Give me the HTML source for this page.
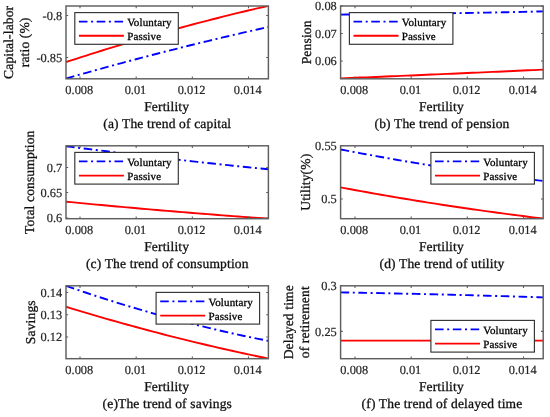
<!DOCTYPE html><html><head><meta charset="utf-8"><style>html,body{margin:0;padding:0;background:#fff;}svg{display:block;}#w{width:550px;height:417px;}text{font-family:"Liberation Serif","Times New Roman",serif;stroke-width:0.3px;text-rendering:geometricPrecision;}text.t{stroke-width:0.2px;}</style></head><body>
<div id="w"><svg width="550" height="417" viewBox="0 0 550 417">
<rect width="550" height="417" fill="#fff"/>
<clipPath id="c00"><rect x="66.0" y="6.0" width="202.39999999999998" height="72.8"/></clipPath>
<g clip-path="url(#c00)" fill="none" stroke-width="1.9">
<polyline points="66.00,62.09 71.06,60.43 76.12,58.79 81.18,57.16 86.24,55.54 91.30,53.94 96.36,52.35 101.42,50.77 106.48,49.20 111.54,47.65 116.60,46.11 121.66,44.58 126.72,43.06 131.78,41.56 136.84,40.07 141.90,38.59 146.96,37.13 152.02,35.68 157.08,34.24 162.14,32.81 167.20,31.40 172.26,30.00 177.32,28.61 182.38,27.23 187.44,25.87 192.50,24.52 197.56,23.18 202.62,21.86 207.68,20.55 212.74,19.25 217.80,17.96 222.86,16.69 227.92,15.43 232.98,14.18 238.04,12.95 243.10,11.72 248.16,10.51 253.22,9.32 258.28,8.13 263.34,6.96 268.40,5.80" stroke="#ff0000"/>
<polyline points="66.00,78.53 71.06,77.08 76.12,75.64 81.18,74.21 86.24,72.79 91.30,71.37 96.36,69.96 101.42,68.56 106.48,67.17 111.54,65.79 116.60,64.41 121.66,63.05 126.72,61.69 131.78,60.34 136.84,58.99 141.90,57.66 146.96,56.33 152.02,55.02 157.08,53.71 162.14,52.40 167.20,51.11 172.26,49.82 177.32,48.55 182.38,47.28 187.44,46.02 192.50,44.76 197.56,43.52 202.62,42.28 207.68,41.06 212.74,39.84 217.80,38.62 222.86,37.42 227.92,36.22 232.98,35.04 238.04,33.86 243.10,32.69 248.16,31.52 253.22,30.37 258.28,29.22 263.34,28.08 268.40,26.95" stroke="#0000ff" stroke-dasharray="8.6 3.6 2.0 3.6"/>
</g>
<rect x="66.0" y="6.0" width="202.39999999999998" height="72.8" fill="none" stroke="#5e5e5e" stroke-width="1.45"/>
<path d="M80.00 78.8v-2.2M80.00 6.0v2.2M136.17 78.8v-2.2M136.17 6.0v2.2M192.33 78.8v-2.2M192.33 6.0v2.2M248.50 78.8v-2.2M248.50 6.0v2.2M66.0 15.5h2.2M268.4 15.5h-2.2M66.0 57.5h2.2M268.4 57.5h-2.2" stroke="#5e5e5e" stroke-width="1.1" fill="none"/>
<rect x="74.8" y="12.6" width="103.50" height="31.70" fill="#fff" stroke="#333" stroke-width="1.15"/>
<line x1="78.89999999999999" y1="21.6" x2="123.9" y2="21.6" stroke="#0000ff" stroke-width="1.9" stroke-dasharray="8.6 3.6 2.0 3.6"/>
<line x1="78.89999999999999" y1="35.8" x2="123.9" y2="35.8" stroke="#ff0000" stroke-width="1.9"/>
<text x="127.19999999999999" y="25.9" font-size="11.0" textLength="44.36" fill="#000" stroke="#000">Voluntary</text>
<text x="127.19999999999999" y="39.8" font-size="11.0" textLength="33.90" fill="#000" stroke="#000">Passive</text>
<text x="79.30" y="94.0" font-size="12.4" class="t" fill="#262626" stroke="#262626" text-anchor="middle">0.008</text>
<text x="135.47" y="94.0" font-size="12.4" class="t" fill="#262626" stroke="#262626" text-anchor="middle">0.01</text>
<text x="191.63" y="94.0" font-size="12.4" class="t" fill="#262626" stroke="#262626" text-anchor="middle">0.012</text>
<text x="247.80" y="94.0" font-size="12.4" class="t" fill="#262626" stroke="#262626" text-anchor="middle">0.014</text>
<text x="62.2" y="19.8" font-size="12.4" class="t" fill="#262626" stroke="#262626" text-anchor="end">-0.8</text>
<text x="62.2" y="61.8" font-size="12.4" class="t" fill="#262626" stroke="#262626" text-anchor="end">-0.85</text>
<text x="166.6" y="111.3" font-size="13.5" textLength="44.79" fill="#111" stroke="#111" text-anchor="middle">Fertility</text>
<text x="167.2" y="127.5" font-size="13.5" textLength="127.87" fill="#111" stroke="#111" text-anchor="middle">(a) The trend of capital</text>
<text transform="translate(13.4 42.4) rotate(-90)" x="0" y="0" font-size="13.6" textLength="73.07" fill="#111" stroke="#111" text-anchor="middle">Capital-labor</text>
<text transform="translate(28.8 42.4) rotate(-90)" x="0" y="0" font-size="13.6" textLength="49.60" fill="#111" stroke="#111" text-anchor="middle">ratio (%)</text>
<clipPath id="c10"><rect x="340.6" y="6.0" width="202.60000000000002" height="72.8"/></clipPath>
<g clip-path="url(#c10)" fill="none" stroke-width="1.9">
<polyline points="340.60,78.40 345.67,78.19 350.73,77.98 355.80,77.77 360.86,77.56 365.93,77.35 370.99,77.14 376.06,76.93 381.12,76.72 386.19,76.51 391.25,76.30 396.32,76.08 401.38,75.87 406.45,75.66 411.51,75.44 416.58,75.22 421.64,75.01 426.71,74.79 431.77,74.57 436.84,74.35 441.90,74.13 446.97,73.91 452.03,73.69 457.10,73.47 462.16,73.25 467.23,73.03 472.29,72.81 477.36,72.58 482.42,72.36 487.49,72.13 492.55,71.91 497.62,71.68 502.68,71.45 507.75,71.23 512.81,71.00 517.88,70.77 522.94,70.54 528.00,70.31 533.07,70.08 538.13,69.85 543.20,69.61" stroke="#ff0000"/>
<polyline points="340.60,14.60 345.67,14.56 350.73,14.51 355.80,14.46 360.86,14.42 365.93,14.36 370.99,14.31 376.06,14.26 381.12,14.20 386.19,14.14 391.25,14.08 396.32,14.02 401.38,13.96 406.45,13.89 411.51,13.82 416.58,13.75 421.64,13.68 426.71,13.61 431.77,13.54 436.84,13.46 441.90,13.38 446.97,13.30 452.03,13.22 457.10,13.13 462.16,13.05 467.23,12.96 472.29,12.87 477.36,12.77 482.42,12.68 487.49,12.58 492.55,12.49 497.62,12.39 502.68,12.29 507.75,12.18 512.81,12.08 517.88,11.97 522.94,11.86 528.00,11.75 533.07,11.64 538.13,11.52 543.20,11.41" stroke="#0000ff" stroke-dasharray="8.6 3.6 2.0 3.6"/>
</g>
<rect x="340.6" y="6.0" width="202.60000000000002" height="72.8" fill="none" stroke="#5e5e5e" stroke-width="1.45"/>
<path d="M355.00 78.8v-2.2M355.00 6.0v2.2M411.17 78.8v-2.2M411.17 6.0v2.2M467.33 78.8v-2.2M467.33 6.0v2.2M523.50 78.8v-2.2M523.50 6.0v2.2M340.6 6.0h2.2M543.2 6.0h-2.2M340.6 33.5h2.2M543.2 33.5h-2.2M340.6 61.0h2.2M543.2 61.0h-2.2" stroke="#5e5e5e" stroke-width="1.1" fill="none"/>
<rect x="349.40000000000003" y="12.6" width="103.50" height="31.70" fill="#fff" stroke="#333" stroke-width="1.15"/>
<line x1="353.50000000000006" y1="21.6" x2="398.50000000000006" y2="21.6" stroke="#0000ff" stroke-width="1.9" stroke-dasharray="8.6 3.6 2.0 3.6"/>
<line x1="353.50000000000006" y1="35.8" x2="398.50000000000006" y2="35.8" stroke="#ff0000" stroke-width="1.9"/>
<text x="401.8" y="25.9" font-size="11.0" textLength="44.36" fill="#000" stroke="#000">Voluntary</text>
<text x="401.8" y="39.8" font-size="11.0" textLength="33.90" fill="#000" stroke="#000">Passive</text>
<text x="354.30" y="94.0" font-size="12.4" class="t" fill="#262626" stroke="#262626" text-anchor="middle">0.008</text>
<text x="410.47" y="94.0" font-size="12.4" class="t" fill="#262626" stroke="#262626" text-anchor="middle">0.01</text>
<text x="466.63" y="94.0" font-size="12.4" class="t" fill="#262626" stroke="#262626" text-anchor="middle">0.012</text>
<text x="522.80" y="94.0" font-size="12.4" class="t" fill="#262626" stroke="#262626" text-anchor="middle">0.014</text>
<text x="336.8" y="10.3" font-size="12.4" class="t" fill="#262626" stroke="#262626" text-anchor="end">0.08</text>
<text x="336.8" y="37.8" font-size="12.4" class="t" fill="#262626" stroke="#262626" text-anchor="end">0.07</text>
<text x="336.8" y="65.3" font-size="12.4" class="t" fill="#262626" stroke="#262626" text-anchor="end">0.06</text>
<text x="441.3" y="111.3" font-size="13.5" textLength="44.79" fill="#111" stroke="#111" text-anchor="middle">Fertility</text>
<text x="441.90000000000003" y="127.5" font-size="13.5" textLength="134.85" fill="#111" stroke="#111" text-anchor="middle">(b) The trend of pension</text>
<text transform="translate(310.5 42.4) rotate(-90)" x="0" y="0" font-size="13.6" textLength="43.86" fill="#111" stroke="#111" text-anchor="middle">Pension</text>
<clipPath id="c01"><rect x="66.0" y="145.8" width="202.39999999999998" height="72.89999999999998"/></clipPath>
<g clip-path="url(#c01)" fill="none" stroke-width="1.9">
<polyline points="66.00,201.68 71.06,202.17 76.12,202.66 81.18,203.14 86.24,203.63 91.30,204.10 96.36,204.58 101.42,205.05 106.48,205.52 111.54,205.98 116.60,206.45 121.66,206.90 126.72,207.36 131.78,207.81 136.84,208.26 141.90,208.70 146.96,209.14 152.02,209.58 157.08,210.01 162.14,210.44 167.20,210.87 172.26,211.29 177.32,211.71 182.38,212.13 187.44,212.54 192.50,212.95 197.56,213.36 202.62,213.76 207.68,214.16 212.74,214.56 217.80,214.95 222.86,215.34 227.92,215.72 232.98,216.10 238.04,216.48 243.10,216.86 248.16,217.23 253.22,217.60 258.28,217.96 263.34,218.32 268.40,218.68" stroke="#ff0000"/>
<polyline points="66.00,146.18 71.06,146.84 76.12,147.48 81.18,148.13 86.24,148.77 91.30,149.41 96.36,150.04 101.42,150.67 106.48,151.30 111.54,151.92 116.60,152.54 121.66,153.15 126.72,153.76 131.78,154.37 136.84,154.97 141.90,155.57 146.96,156.17 152.02,156.76 157.08,157.35 162.14,157.93 167.20,158.51 172.26,159.09 177.32,159.66 182.38,160.23 187.44,160.79 192.50,161.35 197.56,161.91 202.62,162.46 207.68,163.01 212.74,163.55 217.80,164.09 222.86,164.63 227.92,165.16 232.98,165.69 238.04,166.22 243.10,166.74 248.16,167.26 253.22,167.77 258.28,168.28 263.34,168.78 268.40,169.29" stroke="#0000ff" stroke-dasharray="8.6 3.6 2.0 3.6"/>
</g>
<rect x="66.0" y="145.8" width="202.39999999999998" height="72.89999999999998" fill="none" stroke="#5e5e5e" stroke-width="1.45"/>
<path d="M80.00 218.7v-2.2M80.00 145.8v2.2M136.17 218.7v-2.2M136.17 145.8v2.2M192.33 218.7v-2.2M192.33 145.8v2.2M248.50 218.7v-2.2M248.50 145.8v2.2M66.0 167.5h2.2M268.4 167.5h-2.2M66.0 192.5h2.2M268.4 192.5h-2.2M66.0 218.0h2.2M268.4 218.0h-2.2" stroke="#5e5e5e" stroke-width="1.1" fill="none"/>
<rect x="74.8" y="152.4" width="103.50" height="31.70" fill="#fff" stroke="#333" stroke-width="1.15"/>
<line x1="78.89999999999999" y1="161.4" x2="123.9" y2="161.4" stroke="#0000ff" stroke-width="1.9" stroke-dasharray="8.6 3.6 2.0 3.6"/>
<line x1="78.89999999999999" y1="175.6" x2="123.9" y2="175.6" stroke="#ff0000" stroke-width="1.9"/>
<text x="127.19999999999999" y="165.70000000000002" font-size="11.0" textLength="44.36" fill="#000" stroke="#000">Voluntary</text>
<text x="127.19999999999999" y="179.6" font-size="11.0" textLength="33.90" fill="#000" stroke="#000">Passive</text>
<text x="79.30" y="234.0" font-size="12.4" class="t" fill="#262626" stroke="#262626" text-anchor="middle">0.008</text>
<text x="135.47" y="234.0" font-size="12.4" class="t" fill="#262626" stroke="#262626" text-anchor="middle">0.01</text>
<text x="191.63" y="234.0" font-size="12.4" class="t" fill="#262626" stroke="#262626" text-anchor="middle">0.012</text>
<text x="247.80" y="234.0" font-size="12.4" class="t" fill="#262626" stroke="#262626" text-anchor="middle">0.014</text>
<text x="62.2" y="171.8" font-size="12.4" class="t" fill="#262626" stroke="#262626" text-anchor="end">0.7</text>
<text x="62.2" y="196.8" font-size="12.4" class="t" fill="#262626" stroke="#262626" text-anchor="end">0.65</text>
<text x="62.2" y="222.3" font-size="12.4" class="t" fill="#262626" stroke="#262626" text-anchor="end">0.6</text>
<text x="166.6" y="251.3" font-size="13.5" textLength="44.79" fill="#111" stroke="#111" text-anchor="middle">Fertility</text>
<text x="167.2" y="267.5" font-size="13.5" textLength="162.64" fill="#111" stroke="#111" text-anchor="middle">(c) The trend of consumption</text>
<text transform="translate(34.2 182.25) rotate(-90)" x="0" y="0" font-size="13.6" textLength="103.28" fill="#111" stroke="#111" text-anchor="middle">Total consumption</text>
<clipPath id="c11"><rect x="340.6" y="145.8" width="202.60000000000002" height="72.89999999999998"/></clipPath>
<g clip-path="url(#c11)" fill="none" stroke-width="1.9">
<polyline points="340.60,187.42 345.67,188.36 350.73,189.30 355.80,190.23 360.86,191.15 365.93,192.06 370.99,192.96 376.06,193.85 381.12,194.74 386.19,195.61 391.25,196.48 396.32,197.34 401.38,198.19 406.45,199.03 411.51,199.87 416.58,200.69 421.64,201.51 426.71,202.32 431.77,203.12 436.84,203.91 441.90,204.69 446.97,205.47 452.03,206.23 457.10,206.99 462.16,207.74 467.23,208.48 472.29,209.21 477.36,209.93 482.42,210.65 487.49,211.36 492.55,212.05 497.62,212.74 502.68,213.42 507.75,214.10 512.81,214.76 517.88,215.42 522.94,216.06 528.00,216.70 533.07,217.33 538.13,217.95 543.20,218.56" stroke="#ff0000"/>
<polyline points="340.60,149.45 345.67,150.43 350.73,151.40 355.80,152.36 360.86,153.32 365.93,154.26 370.99,155.19 376.06,156.11 381.12,157.02 386.19,157.93 391.25,158.82 396.32,159.70 401.38,160.57 406.45,161.44 411.51,162.29 416.58,163.13 421.64,163.96 426.71,164.78 431.77,165.60 436.84,166.40 441.90,167.19 446.97,167.97 452.03,168.74 457.10,169.51 462.16,170.26 467.23,171.00 472.29,171.73 477.36,172.45 482.42,173.17 487.49,173.87 492.55,174.56 497.62,175.24 502.68,175.91 507.75,176.57 512.81,177.22 517.88,177.87 522.94,178.50 528.00,179.12 533.07,179.73 538.13,180.33 543.20,180.92" stroke="#0000ff" stroke-dasharray="8.6 3.6 2.0 3.6"/>
</g>
<rect x="340.6" y="145.8" width="202.60000000000002" height="72.89999999999998" fill="none" stroke="#5e5e5e" stroke-width="1.45"/>
<path d="M355.00 218.7v-2.2M355.00 145.8v2.2M411.17 218.7v-2.2M411.17 145.8v2.2M467.33 218.7v-2.2M467.33 145.8v2.2M523.50 218.7v-2.2M523.50 145.8v2.2M340.6 145.5h2.2M543.2 145.5h-2.2M340.6 199.0h2.2M543.2 199.0h-2.2" stroke="#5e5e5e" stroke-width="1.1" fill="none"/>
<rect x="430.9000000000001" y="152.4" width="103.50" height="31.70" fill="#fff" stroke="#333" stroke-width="1.15"/>
<line x1="435.0000000000001" y1="161.4" x2="480.0000000000001" y2="161.4" stroke="#0000ff" stroke-width="1.9" stroke-dasharray="8.6 3.6 2.0 3.6"/>
<line x1="435.0000000000001" y1="175.6" x2="480.0000000000001" y2="175.6" stroke="#ff0000" stroke-width="1.9"/>
<text x="483.30000000000007" y="165.70000000000002" font-size="11.0" textLength="44.36" fill="#000" stroke="#000">Voluntary</text>
<text x="483.30000000000007" y="179.6" font-size="11.0" textLength="33.90" fill="#000" stroke="#000">Passive</text>
<text x="354.30" y="234.0" font-size="12.4" class="t" fill="#262626" stroke="#262626" text-anchor="middle">0.008</text>
<text x="410.47" y="234.0" font-size="12.4" class="t" fill="#262626" stroke="#262626" text-anchor="middle">0.01</text>
<text x="466.63" y="234.0" font-size="12.4" class="t" fill="#262626" stroke="#262626" text-anchor="middle">0.012</text>
<text x="522.80" y="234.0" font-size="12.4" class="t" fill="#262626" stroke="#262626" text-anchor="middle">0.014</text>
<text x="336.8" y="149.8" font-size="12.4" class="t" fill="#262626" stroke="#262626" text-anchor="end">0.55</text>
<text x="336.8" y="203.3" font-size="12.4" class="t" fill="#262626" stroke="#262626" text-anchor="end">0.5</text>
<text x="441.3" y="251.3" font-size="13.5" textLength="44.79" fill="#111" stroke="#111" text-anchor="middle">Fertility</text>
<text x="441.90000000000003" y="267.5" font-size="13.5" textLength="124.82" fill="#111" stroke="#111" text-anchor="middle">(d) The trend of utility</text>
<text transform="translate(310.4 182.25) rotate(-90)" x="0" y="0" font-size="13.6" textLength="56.93" fill="#111" stroke="#111" text-anchor="middle">Utility(%)</text>
<clipPath id="c02"><rect x="66.0" y="285.8" width="202.39999999999998" height="72.89999999999998"/></clipPath>
<g clip-path="url(#c02)" fill="none" stroke-width="1.9">
<polyline points="66.00,306.75 71.06,308.31 76.12,309.84 81.18,311.37 86.24,312.88 91.30,314.38 96.36,315.87 101.42,317.34 106.48,318.80 111.54,320.25 116.60,321.68 121.66,323.10 126.72,324.51 131.78,325.90 136.84,327.28 141.90,328.65 146.96,330.01 152.02,331.35 157.08,332.68 162.14,333.99 167.20,335.30 172.26,336.58 177.32,337.86 182.38,339.12 187.44,340.37 192.50,341.61 197.56,342.83 202.62,344.04 207.68,345.24 212.74,346.42 217.80,347.59 222.86,348.75 227.92,349.90 232.98,351.03 238.04,352.15 243.10,353.25 248.16,354.34 253.22,355.42 258.28,356.49 263.34,357.54 268.40,358.58" stroke="#ff0000"/>
<polyline points="66.00,285.86 71.06,287.62 76.12,289.35 81.18,291.07 86.24,292.77 91.30,294.45 96.36,296.11 101.42,297.75 106.48,299.36 111.54,300.96 116.60,302.55 121.66,304.11 126.72,305.65 131.78,307.17 136.84,308.67 141.90,310.15 146.96,311.62 152.02,313.06 157.08,314.48 162.14,315.89 167.20,317.27 172.26,318.64 177.32,319.98 182.38,321.31 187.44,322.62 192.50,323.90 197.56,325.17 202.62,326.42 207.68,327.65 212.74,328.86 217.80,330.05 222.86,331.21 227.92,332.36 232.98,333.50 238.04,334.61 243.10,335.70 248.16,336.77 253.22,337.82 258.28,338.85 263.34,339.87 268.40,340.86" stroke="#0000ff" stroke-dasharray="8.6 3.6 2.0 3.6"/>
</g>
<rect x="66.0" y="285.8" width="202.39999999999998" height="72.89999999999998" fill="none" stroke="#5e5e5e" stroke-width="1.45"/>
<path d="M80.00 358.7v-2.2M80.00 285.8v2.2M136.17 358.7v-2.2M136.17 285.8v2.2M192.33 358.7v-2.2M192.33 285.8v2.2M248.50 358.7v-2.2M248.50 285.8v2.2M66.0 292.5h2.2M268.4 292.5h-2.2M66.0 314.75h2.2M268.4 314.75h-2.2M66.0 337.0h2.2M268.4 337.0h-2.2" stroke="#5e5e5e" stroke-width="1.1" fill="none"/>
<rect x="156.09999999999997" y="292.40000000000003" width="103.50" height="31.70" fill="#fff" stroke="#333" stroke-width="1.15"/>
<line x1="160.19999999999996" y1="301.40000000000003" x2="205.19999999999996" y2="301.40000000000003" stroke="#0000ff" stroke-width="1.9" stroke-dasharray="8.6 3.6 2.0 3.6"/>
<line x1="160.19999999999996" y1="315.6" x2="205.19999999999996" y2="315.6" stroke="#ff0000" stroke-width="1.9"/>
<text x="208.49999999999997" y="305.70000000000005" font-size="11.0" textLength="44.36" fill="#000" stroke="#000">Voluntary</text>
<text x="208.49999999999997" y="319.6" font-size="11.0" textLength="33.90" fill="#000" stroke="#000">Passive</text>
<text x="79.30" y="374.0" font-size="12.4" class="t" fill="#262626" stroke="#262626" text-anchor="middle">0.008</text>
<text x="135.47" y="374.0" font-size="12.4" class="t" fill="#262626" stroke="#262626" text-anchor="middle">0.01</text>
<text x="191.63" y="374.0" font-size="12.4" class="t" fill="#262626" stroke="#262626" text-anchor="middle">0.012</text>
<text x="247.80" y="374.0" font-size="12.4" class="t" fill="#262626" stroke="#262626" text-anchor="middle">0.014</text>
<text x="62.2" y="296.8" font-size="12.4" class="t" fill="#262626" stroke="#262626" text-anchor="end">0.14</text>
<text x="62.2" y="319.05" font-size="12.4" class="t" fill="#262626" stroke="#262626" text-anchor="end">0.13</text>
<text x="62.2" y="341.3" font-size="12.4" class="t" fill="#262626" stroke="#262626" text-anchor="end">0.12</text>
<text x="166.6" y="391.3" font-size="13.5" textLength="44.79" fill="#111" stroke="#111" text-anchor="middle">Fertility</text>
<text x="167.2" y="407.5" font-size="13.5" textLength="129.30" fill="#111" stroke="#111" text-anchor="middle">(e)The trend of savings</text>
<text transform="translate(34.5 322.25) rotate(-90)" x="0" y="0" font-size="13.6" textLength="43.86" fill="#111" stroke="#111" text-anchor="middle">Savings</text>
<clipPath id="c12"><rect x="340.6" y="285.8" width="202.60000000000002" height="72.89999999999998"/></clipPath>
<g clip-path="url(#c12)" fill="none" stroke-width="1.9">
<polyline points="340.60,340.60 345.67,340.60 350.73,340.60 355.80,340.60 360.86,340.60 365.93,340.60 370.99,340.60 376.06,340.60 381.12,340.60 386.19,340.60 391.25,340.60 396.32,340.60 401.38,340.60 406.45,340.60 411.51,340.60 416.58,340.60 421.64,340.60 426.71,340.60 431.77,340.60 436.84,340.60 441.90,340.60 446.97,340.60 452.03,340.60 457.10,340.60 462.16,340.60 467.23,340.60 472.29,340.60 477.36,340.60 482.42,340.60 487.49,340.60 492.55,340.60 497.62,340.60 502.68,340.60 507.75,340.60 512.81,340.60 517.88,340.60 522.94,340.60 528.00,340.60 533.07,340.60 538.13,340.60 543.20,340.60" stroke="#ff0000"/>
<polyline points="340.60,292.40 345.67,292.49 350.73,292.58 355.80,292.67 360.86,292.77 365.93,292.86 370.99,292.96 376.06,293.06 381.12,293.16 386.19,293.26 391.25,293.37 396.32,293.48 401.38,293.59 406.45,293.70 411.51,293.81 416.58,293.92 421.64,294.04 426.71,294.16 431.77,294.28 436.84,294.40 441.90,294.52 446.97,294.65 452.03,294.78 457.10,294.91 462.16,295.04 467.23,295.17 472.29,295.31 477.36,295.44 482.42,295.58 487.49,295.72 492.55,295.86 497.62,296.01 502.68,296.15 507.75,296.30 512.81,296.45 517.88,296.60 522.94,296.76 528.00,296.91 533.07,297.07 538.13,297.23 543.20,297.39" stroke="#0000ff" stroke-dasharray="8.6 3.6 2.0 3.6"/>
</g>
<rect x="340.6" y="285.8" width="202.60000000000002" height="72.89999999999998" fill="none" stroke="#5e5e5e" stroke-width="1.45"/>
<path d="M355.00 358.7v-2.2M355.00 285.8v2.2M411.17 358.7v-2.2M411.17 285.8v2.2M467.33 358.7v-2.2M467.33 285.8v2.2M523.50 358.7v-2.2M523.50 285.8v2.2M340.6 285.5h2.2M543.2 285.5h-2.2M340.6 331.4h2.2M543.2 331.4h-2.2" stroke="#5e5e5e" stroke-width="1.1" fill="none"/>
<rect x="430.9000000000001" y="320.4" width="103.50" height="31.70" fill="#fff" stroke="#333" stroke-width="1.15"/>
<line x1="435.0000000000001" y1="329.4" x2="480.0000000000001" y2="329.4" stroke="#0000ff" stroke-width="1.9" stroke-dasharray="8.6 3.6 2.0 3.6"/>
<line x1="435.0000000000001" y1="343.59999999999997" x2="480.0000000000001" y2="343.59999999999997" stroke="#ff0000" stroke-width="1.9"/>
<text x="483.30000000000007" y="333.7" font-size="11.0" textLength="44.36" fill="#000" stroke="#000">Voluntary</text>
<text x="483.30000000000007" y="347.59999999999997" font-size="11.0" textLength="33.90" fill="#000" stroke="#000">Passive</text>
<text x="354.30" y="374.0" font-size="12.4" class="t" fill="#262626" stroke="#262626" text-anchor="middle">0.008</text>
<text x="410.47" y="374.0" font-size="12.4" class="t" fill="#262626" stroke="#262626" text-anchor="middle">0.01</text>
<text x="466.63" y="374.0" font-size="12.4" class="t" fill="#262626" stroke="#262626" text-anchor="middle">0.012</text>
<text x="522.80" y="374.0" font-size="12.4" class="t" fill="#262626" stroke="#262626" text-anchor="middle">0.014</text>
<text x="336.8" y="289.8" font-size="12.4" class="t" fill="#262626" stroke="#262626" text-anchor="end">0.3</text>
<text x="336.8" y="335.7" font-size="12.4" class="t" fill="#262626" stroke="#262626" text-anchor="end">0.25</text>
<text x="441.3" y="391.3" font-size="13.5" textLength="44.79" fill="#111" stroke="#111" text-anchor="middle">Fertility</text>
<text x="441.90000000000003" y="407.5" font-size="13.5" textLength="160.68" fill="#111" stroke="#111" text-anchor="middle">(f) The trend of delayed time</text>
<text transform="translate(292.5 322.25) rotate(-90)" x="0" y="0" font-size="13.6" textLength="74.22" fill="#111" stroke="#111" text-anchor="middle">Delayed time</text>
<text transform="translate(309.3 322.25) rotate(-90)" x="0" y="0" font-size="13.6" textLength="71.91" fill="#111" stroke="#111" text-anchor="middle">of retirement</text>
</svg></div></body></html>
